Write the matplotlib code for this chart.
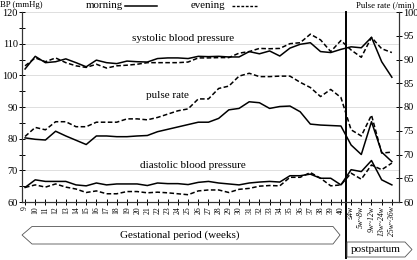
import matplotlib
matplotlib.use("Agg")
import matplotlib.pyplot as plt
from matplotlib.patches import Polygon
from matplotlib.lines import Line2D
from matplotlib.transforms import blended_transform_factory

plt.rcParams['font.family'] = ['Liberation Serif', 'DejaVu Serif']

# categories: gestational weeks 9..40, then postpartum periods
weeks = [str(w) for w in range(9, 41)]
postpartum = ["\u22644w", "5w~8w", "9w~12w", "13w~24w", "25w~36w"]
labels = weeks + postpartum

# systolic blood pressure (mmHg)
sys_morning = [102, 106, 104, 104.3, 105.2, 104, 102.7, 104.8, 104, 103.7,
               104.5, 104.3, 104.2, 105.3, 105.5, 105.5, 105.3, 106, 105.9, 106,
               105.8, 105.8, 107.5, 106.8, 107.7, 106.1, 108.6, 109.8, 110.3, 107.5,
               107.2, 108.2,
               109, 108.7, 112, 104.3, 99.4]
sys_evening = [103, 105.5, 104.3, 105.5, 104, 103, 102.5, 103.5, 102.3, 103,
               103.2, 103.5, 104, 104, 104, 104, 104.2, 105.5, 105.5, 105.6,
               105.6, 107, 107.5, 108.5, 108.4, 108.5, 110, 110.3, 113, 111.2,
               107.5, 111,
               108, 105.7, 112, 108.4, 107.2]

# diastolic blood pressure (mmHg)
dia_morning = [64.6, 67, 66.5, 66.5, 66.5, 65.4, 65.1, 66, 65.4, 65.7,
               65.7, 65.7, 65.2, 66, 65.8, 65.8, 65.5, 66.2, 66.5, 66,
               65.7, 65.4, 66, 66.3, 66.5, 66.3, 68.3, 68.3, 68.8, 67.5,
               67.5, 65.4,
               70.2, 69.6, 73.1, 67, 65.4]
dia_evening = [64.6, 65.4, 64.7, 65.7, 64.7, 64.1, 63, 63.5, 62.6, 62.6,
               63.3, 63.3, 62.9, 63.1, 62.9, 62.6, 62.3, 63.5, 63.8, 63.8,
               63, 64, 64.3, 65, 65.2, 65.1, 67.8, 67.8, 69.3, 67.5,
               65.1, 65.4,
               69.1, 67.2, 71.7, 70.2, 72.3]

# pulse rate (/min)
pulse_morning = [73.5, 73.2, 73.05, 74.9, 73.9, 73, 72.1, 73.9, 73.9, 73.75,
                 73.75, 73.9, 74, 74.8, 75.3, 75.8, 76.3, 76.8, 76.8, 77.6,
                 79.4, 79.7, 81.1, 80.9, 79.7, 80.1, 80.2, 79, 76.4, 76.2,
                 76.1, 76,
                 72, 70, 76.9, 70.5, 68.5]
pulse_evening = [73.8, 75.7, 75.2, 76.9, 76.9, 75.85, 75.85, 76.8, 76.8, 76.8,
                 77.5, 77.5, 77.3, 77.8, 78.5, 79.2, 79.6, 81.7, 81.7, 83.9,
                 84.4, 86.5, 87.1, 86.4, 86.4, 86.5, 86.5, 85.2, 84.1, 82.2,
                 83.7, 82,
                 75.2, 73.9, 78.3, 70.3, 70.5]

W, H = 417, 260
x = list(range(len(labels)))
split = len(weeks) - 0.5

fig = plt.figure(figsize=(W / 100, H / 100), dpi=100)
ax = fig.add_axes([22 / W, 1 - 202 / H, 377 / W, 190 / H])
ax2 = ax.twinx()

dash = (0, (3, 1.6))
lw = 1.1

ax.plot(x, sys_morning, color="black", lw=lw)
ax.plot(x, sys_evening, color="black", lw=lw, linestyle=dash)
ax.plot(x, dia_morning, color="black", lw=lw)
ax.plot(x, dia_evening, color="black", lw=lw, linestyle=dash)
ax2.plot(x, pulse_morning, color="black", lw=lw)
ax2.plot(x, pulse_evening, color="black", lw=lw, linestyle=dash)

ax.set_xlim(-0.3, 36.7)
ax.set_ylim(60, 120)
ax2.set_ylim(60, 100)

ax.set_yticks(range(60, 121, 10))
ax.set_yticks(range(65, 120, 10), minor=True)
ax2.set_yticks(range(60, 101, 5))
ax.yaxis.grid(True, color="#d9d9d9", lw=0.6)
ax.set_axisbelow(True)

ax.set_xticks(x)
ax.set_xticklabels(labels, rotation=90, fontsize=5.5)
for t in ax.get_xticklabels()[len(weeks):]:
    t.set_style("italic")

ax.tick_params(axis="y", labelsize=7.5, direction="inout", length=4, width=0.7, pad=1)
ax.tick_params(axis="y", which="minor", direction="inout", length=4, width=0.7)
ax.tick_params(axis="x", direction="inout", length=4, width=0.7, pad=1)
ax2.tick_params(axis="y", labelsize=7.5, direction="inout", length=4, width=0.7, pad=1)

for a in (ax, ax2):
    a.spines["top"].set_visible(False)
    for s in ("left", "right", "bottom"):
        a.spines[s].set_linewidth(0.8)
        a.spines[s].set_color("#333333")

# series labels
ax.text(15.5, 111.5, "systolic blood pressure", fontsize=8, ha="center", va="center")
ax.text(14, 93.5, "pulse rate", fontsize=8, ha="center", va="center")
ax.text(16.5, 71.5, "diastolic blood pressure", fontsize=8, ha="center", va="center")

# divider between pregnancy and postpartum
tr = blended_transform_factory(ax.transData, fig.transFigure)
ax.plot([split, split], [1 - 12 / H, 1 - 258 / H], color="black", lw=1.4,
        transform=tr, clip_on=False)


def px(pts):
    return [(a / W, 1 - b / H) for a, b in pts]


gest = Polygon(px([(22, 235), (32, 226.5), (333, 226.5), (340, 235), (333, 244), (32, 244)]),
               closed=True, fill=False, edgecolor="#555555", lw=0.6, transform=fig.transFigure)
fig.patches.append(gest)
fig.text(180 / W, 1 - 235.5 / H, "Gestational period (weeks)", fontsize=8, ha="center", va="center")

post = Polygon(px([(347, 242), (405, 242), (412, 249.5), (405, 257), (347, 257)]),
               closed=True, fill=False, edgecolor="#555555", lw=0.6, transform=fig.transFigure)
fig.patches.append(post)
fig.text(376 / W, 1 - 249.5 / H, "postpartum", fontsize=8, ha="center", va="center")

# header texts and legend
fig.text(0, 1 - 5 / H, "BP (mmHg)", fontsize=6.3, ha="left", va="center")
fig.text(414 / W, 1 - 5 / H, "Pulse rate (/min)", fontsize=6.3, ha="right", va="center")
fig.text(104 / W, 1 - 5 / H, "morning", fontsize=7.8, ha="center", va="center")
fig.text(208 / W, 1 - 5 / H, "evening", fontsize=7.8, ha="center", va="center")
fig.lines.append(Line2D([125 / W, 157 / W], [1 - 6 / H, 1 - 6 / H], color="black", lw=1.1,
                        transform=fig.transFigure))
fig.lines.append(Line2D([232 / W, 258 / W], [1 - 6 / H, 1 - 6 / H], color="black", lw=1.0,
                        linestyle=(0, (2, 1.2)), transform=fig.transFigure))

fig.savefig("out.png", dpi=100)
